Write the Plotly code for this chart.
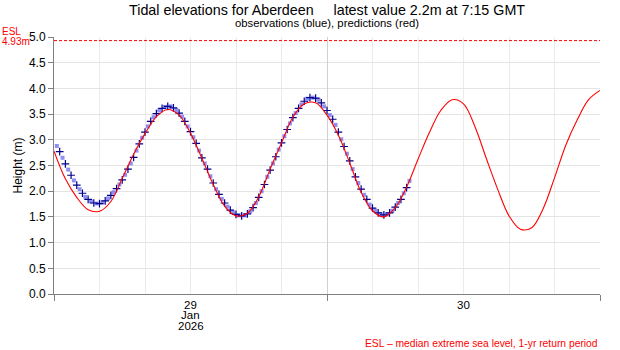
import pandas as pd
import plotly.graph_objects as go

# Predicted tide (m), hourly from 29 Jan 2026 00:00 GMT
pred_heights = [2.78, 2.24, 1.88, 1.64, 1.61, 1.80, 2.25, 2.72, 3.12, 3.45,
                3.59, 3.48, 3.13, 2.64, 2.13, 1.71, 1.52, 1.57, 1.89, 2.43,
                2.94, 3.44, 3.70, 3.72, 3.48, 3.09, 2.55, 1.98, 1.62, 1.50,
                1.68, 2.08, 2.62, 3.14, 3.57, 3.78, 3.70, 3.26, 2.64, 2.04,
                1.52, 1.26, 1.29, 1.66, 2.26, 2.90, 3.39, 3.78, 3.96]

# Observed tide (m), two interleaved records, each every 30 min
# record A starts 00:30, record B starts 00:15
obs_a_heights = [2.77, 2.53, 2.31, 2.12, 1.96, 1.84, 1.77, 1.76, 1.81, 1.92,
                 2.05, 2.22, 2.43, 2.66, 2.92, 3.15, 3.36, 3.51, 3.61, 3.65,
                 3.62, 3.52, 3.36, 3.16, 2.93, 2.65, 2.43, 2.16, 1.94, 1.77,
                 1.63, 1.55, 1.52, 1.56, 1.68, 1.88, 2.13, 2.41, 2.67, 2.94,
                 3.20, 3.43, 3.61, 3.75, 3.82, 3.81, 3.72, 3.57, 3.40, 3.15,
                 2.87, 2.59, 2.28, 2.04, 1.84, 1.67, 1.58, 1.54, 1.58, 1.69,
                 1.84, 2.07]
obs_b_heights = [2.88, 2.65, 2.42, 2.21, 2.04, 1.89, 1.80, 1.76, 1.78, 1.86,
                 1.98, 2.13, 2.32, 2.54, 2.79, 3.04, 3.26, 3.44, 3.57, 3.64,
                 3.65, 3.58, 3.45, 3.26, 3.05, 2.79, 2.54, 2.29, 2.04, 1.85,
                 1.70, 1.58, 1.53, 1.53, 1.61, 1.77, 2.00, 2.28, 2.54, 2.81,
                 3.07, 3.32, 3.52, 3.69, 3.80, 3.82, 3.78, 3.65, 3.48, 3.29,
                 3.01, 2.73, 2.43, 2.16, 1.93, 1.74, 1.62, 1.55, 1.55, 1.62,
                 1.77, 1.96, 2.20]

esl_level = 4.93
day_labels = ["29", "30"]
first_day_extra = ["Jan", "2026"]
font_family = "Liberation Sans, Arial, sans-serif"

start = pd.Timestamp("2026-01-29 00:00")
end = start + pd.Timedelta(hours=48)
pred_times = pd.date_range(start, periods=len(pred_heights), freq="1h")
obs_a_times = pd.date_range(start + pd.Timedelta(minutes=30), periods=len(obs_a_heights), freq="30min")
obs_b_times = pd.date_range(start + pd.Timedelta(minutes=15), periods=len(obs_b_heights), freq="30min")
midnights = pd.date_range(start, end, freq="1D")
noons = midnights[:-1] + pd.Timedelta(hours=12)

fig = go.Figure()

fig.add_trace(go.Scatter(
    x=pred_times, y=pred_heights, mode="lines",
    line=dict(color="#ff0000", width=1.1, shape="spline", smoothing=1),
    xaxis="x2", hoverinfo="skip"
))
fig.add_trace(go.Scatter(
    x=obs_b_times, y=obs_b_heights, mode="markers",
    marker=dict(symbol="square", size=4, color="rgba(70,70,235,0.6)", line=dict(width=0))
))
fig.add_trace(go.Scatter(
    x=obs_a_times, y=obs_a_heights, mode="markers",
    marker=dict(symbol="cross-thin", size=5.5, line=dict(width=1.2, color="#00008b"))
))

latest = obs_b_heights[-1]
nb = "\u00a0"
title = f"Tidal elevations for Aberdeen{nb * 5}latest value {latest:.1f}m at 7:15 GMT"

fig.update_layout(
    width=620, height=350,
    margin=dict(l=54, r=20, t=37, b=56),
    paper_bgcolor="white", plot_bgcolor="white",
    showlegend=False,
    font=dict(family=font_family, size=12, color="#000000"),
    xaxis=dict(
        type="date", range=[start, end], automargin=False,
        tickmode="array", tickvals=noons, ticktext=day_labels,
        ticks="", showgrid=False, zeroline=False,
        showline=True, linecolor="#808080", linewidth=1,
        tickfont=dict(size=11.5),
        minor=dict(tick0=start, dtick=4 * 3600 * 1000, showgrid=True,
                   gridcolor="#ebebeb", gridwidth=1, ticks=""),
    ),
    xaxis2=dict(
        type="date", range=[start, end], overlaying="x", anchor="y", side="bottom",
        tickmode="array", tickvals=midnights, showticklabels=False,
        ticks="outside", ticklen=6, tickcolor="#808080",
        showgrid=True, gridcolor="#d0d0d0", gridwidth=1, zeroline=False,
    ),
    yaxis=dict(
        range=[0, 5], tick0=0, dtick=0.5, tickformat=".1f", automargin=False,
        ticks="outside", ticklen=5, tickcolor="#808080",
        showline=True, linecolor="#808080", linewidth=1,
        gridcolor="#e4e4e4", zeroline=False,
        title=dict(text="Height (m)", font=dict(size=12), standoff=3),
        tickfont=dict(size=12),
    ),
)

fig.add_shape(type="line", xref="x domain", x0=0, x1=1, yref="y", y0=esl_level, y1=esl_level,
              line=dict(color="#ff0000", width=1, dash="3px,2px"))

# month / year under the first day label
for i, txt in enumerate(first_day_extra):
    fig.add_annotation(text=txt, xref="x", x=noons[0], yref="paper", y=0, yanchor="middle",
                       yshift=-21 - 11 * i, showarrow=False, font=dict(size=11.5))

fig.add_annotation(text=title, xref="paper", x=0.5, yref="paper", y=1, yanchor="middle",
                   yshift=27, showarrow=False, font=dict(size=14.3, color="#000000"))
fig.add_annotation(text="observations (blue), predictions (red)", xref="paper", x=0.5,
                   yref="paper", y=1, yanchor="middle", yshift=14, showarrow=False,
                   font=dict(size=11.3, color="#000000"))
fig.add_annotation(text="ESL", xref="paper", x=0, xanchor="left", xshift=-54,
                   yref="y", y=esl_level, yanchor="middle", yshift=9, showarrow=False,
                   font=dict(size=10, color="#ff0000"))
fig.add_annotation(text=f"{esl_level:.2f}m", xref="paper", x=0, xanchor="left", xshift=-54,
                   yref="y", y=esl_level, yanchor="middle", yshift=-1, showarrow=False,
                   font=dict(size=10, color="#ff0000"))
fig.add_annotation(text="ESL \u2013 median extreme sea level, 1-yr return period", xref="paper", x=1,
                   xanchor="right", yref="paper", y=0, yanchor="middle", yshift=-49,
                   showarrow=False, font=dict(size=10.3, color="#ff0000"))

# the page body has a default 8px margin; drop it so the figure sits at the window corner
fig.write_html("out.html", config={"displayModeBar": False},
               post_script="document.body.style.margin='0';")
